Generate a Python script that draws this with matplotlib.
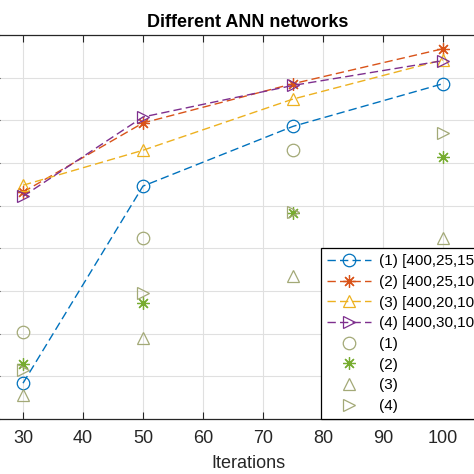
import numpy as np
import matplotlib.pyplot as plt

plt.rcParams["font.family"] = ["Liberation Sans", "DejaVu Sans"]

# ------------------------------------------------------------------ #
#  data                              #
# ------------------------------------------------------------------ #
iterations = [30, 50, 75, 100]

net1 = [0.592, 0.823, 0.893, 0.943]
net2 = [0.816, 0.897, 0.943, 0.984]
net3 = [0.824, 0.865, 0.925, 0.971]
net4 = [0.811, 0.904, 0.941, 0.970]

pts1 = [0.652, 0.762, 0.865, np.nan]
pts2 = [0.614, 0.686, 0.791, 0.857]
pts3 = [0.578, 0.645, 0.718, 0.762]
pts4 = [0.607, 0.698, 0.793, 0.885]

line_labels = ["(1) [400,25,15,10]", "(2) [400,25,10]",
               "(3) [400,20,10]", "(4) [400,30,10]"]
point_labels = ["(1)", "(2)", "(3)", "(4)"]
x_ticks = [30, 40, 50, 60, 70, 80, 90, 100]
y_ticks = [0.55, 0.60, 0.65, 0.70, 0.75, 0.80, 0.85, 0.90, 0.95, 1.00]

# ------------------------------------------------------------------ #
#  plot                                                               #
# ------------------------------------------------------------------ #
fig = plt.figure(figsize=(4.74, 4.74), dpi=100)
# axes run past the left/right edges of the picture (cropped look)
ax = fig.add_axes([-7 / 474, 0.116, 510 / 474, 0.810])

asterisk = (8, 2, 0)
line_styles = [("o", "#0072BD"), (asterisk, "#D95319"), ("^", "#EDB120"), (">", "#7E2F8E")]
for ys, (m, c), lab in zip([net1, net2, net3, net4], line_styles, line_labels):
    ax.plot(iterations, ys, "--", color=c, marker=m, mfc="none", ms=9,
            lw=1.0, mew=0.9, dashes=(6, 3), label=lab)

olive = "#a3a977"
green = "#77AC30"
point_styles = [("o", olive), (asterisk, green), ("^", olive), (">", olive)]
for ys, (m, c), lab in zip([pts1, pts2, pts3, pts4], point_styles, point_labels):
    ax.plot(iterations, ys, ls="none", color=c, marker=m, mfc="none", ms=9,
            mew=0.9, label=lab)

ax.set_xlim(25, 110)
ax.set_ylim(0.55, 1.0)
ax.set_xticks(x_ticks)
ax.set_yticks(y_ticks)
ax.set_yticklabels([])
ax.grid(True, color="#e0e0e0", lw=0.8)
ax.set_axisbelow(True)
ax.tick_params(direction="in", top=True, right=True, length=5, labelsize=13,
               colors="#262626", pad=8)
for s in ax.spines.values():
    s.set_color("#262626")
    s.set_linewidth(0.9)

ax.set_xlabel("Iterations", fontsize=13, color="#262626", labelpad=6)
ax.set_title("Different ANN networks", fontsize=13, fontweight="bold", pad=6)

leg = ax.legend(loc="lower left", bbox_to_anchor=(328 / 510, 0.0), borderaxespad=0,
                fontsize=11, frameon=True, fancybox=False, framealpha=1,
                edgecolor="black", borderpad=0.38, labelspacing=0.44,
                handlelength=2.9, handletextpad=0.5)
leg.get_frame().set_linewidth(0.9)

fig.savefig("out.png", dpi=100)
